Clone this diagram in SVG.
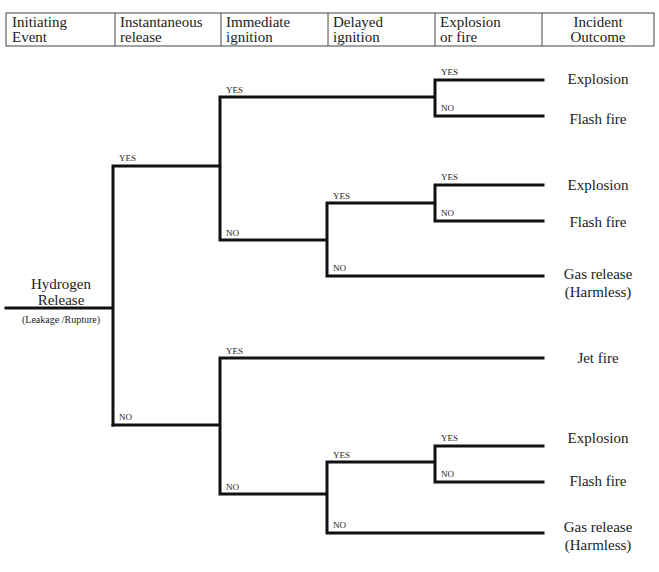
<svg xmlns="http://www.w3.org/2000/svg" width="659" height="572" viewBox="0 0 659 572">
<style>
.h{font-family:"Liberation Serif",serif;font-size:15px;fill:#222}
.o{font-family:"Liberation Serif",serif;font-size:15px;fill:#222;text-anchor:middle}
.l{font-family:"Liberation Serif",serif;font-size:9px;fill:#222}
.t{fill:none;stroke:#111;stroke-width:3;stroke-linecap:square}
</style>
<rect width="659" height="572" fill="#fff"/>
<g id="header" fill="none" stroke="#444" stroke-width="1">
<rect x="6" y="13" width="648" height="33"/>
<path d="M115 13V46M221 13V46M328 13V46M435 13V46M542 13V46"/>
</g>
<g id="header-text">
<text class="h" x="12" y="27">Initiating</text><text class="h" x="12" y="42">Event</text>
<text class="h" x="120" y="27">Instantaneous</text><text class="h" x="120" y="42">release</text>
<text class="h" x="226" y="27">Immediate</text><text class="h" x="226" y="42">ignition</text>
<text class="h" x="333" y="27">Delayed</text><text class="h" x="333" y="42">ignition</text>
<text class="h" x="440" y="27">Explosion</text><text class="h" x="440" y="42">or fire</text>
<text class="o" x="598" y="27">Incident</text><text class="o" x="598" y="42">Outcome</text>
</g>
<g id="connectors" class="t">
<path class="t" d="M6 308H113M113 166V425M113 166H220M220 97V240M220 97H435M435 80V116M435 80H543M435 116H543M220 240H327M327 203V276M327 203H435M435 185V221M435 185H543M435 221H543M327 276H543"/>
<path class="t" d="M113 425H220M220 358V494M220 358H543M220 494H327M327 462V533M327 462H435M435 446V482M435 446H543M435 482H543M327 533H543"/>
</g>
<g id="labels">
<text class="l" x="119" y="161">YES</text><text class="l" x="119" y="420">NO</text>
<text class="l" x="226" y="93">YES</text><text class="l" x="226" y="236">NO</text>
<text class="l" x="441" y="75">YES</text><text class="l" x="441" y="111">NO</text>
<text class="l" x="333" y="199">YES</text><text class="l" x="333" y="271">NO</text>
<text class="l" x="441" y="180">YES</text><text class="l" x="441" y="216">NO</text>
<text class="l" x="226" y="354">YES</text><text class="l" x="226" y="490">NO</text>
<text class="l" x="333" y="458">YES</text><text class="l" x="333" y="528">NO</text>
<text class="l" x="441" y="441">YES</text><text class="l" x="441" y="477">NO</text>
</g>
<g id="root">
<text class="o" x="61" y="289">Hydrogen</text><text class="o" x="61" y="305">Release</text>
<text class="o" x="61" y="323" style="font-size:10px">(Leakage /Rupture)</text>
</g>
<g id="outcomes">
<text class="o" x="598" y="84">Explosion</text>
<text class="o" x="598" y="124">Flash fire</text>
<text class="o" x="598" y="190">Explosion</text>
<text class="o" x="598" y="227">Flash fire</text>
<text class="o" x="598" y="279">Gas release</text><text class="o" x="598" y="297">(Harmless)</text>
<text class="o" x="598" y="363">Jet fire</text>
<text class="o" x="598" y="443">Explosion</text>
<text class="o" x="598" y="486">Flash fire</text>
<text class="o" x="598" y="532">Gas release</text><text class="o" x="598" y="550">(Harmless)</text>
</g>
</svg>
